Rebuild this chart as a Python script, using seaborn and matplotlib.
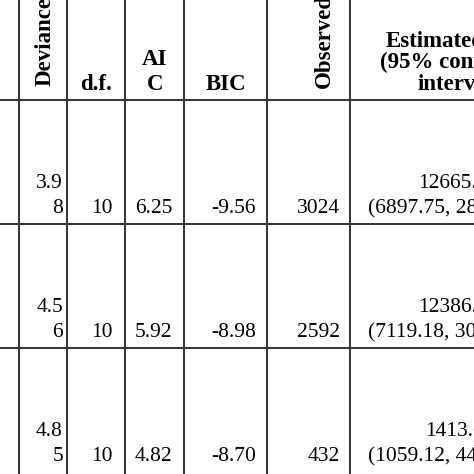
import matplotlib
matplotlib.use("Agg")
import matplotlib.pyplot as plt
import seaborn as sns

# table contents (cropped view of a model-fit table)
deviance = [("3.9", "8"), ("4.5", "6"), ("4.8", "5")]
df_vals = ["10", "10", "10"]
aic = ["6.25", "5.92", "4.82"]
bic = ["-9.56", "-8.98", "-8.70"]
observed = ["3024", "2592", "432"]
estimated = ["12665.53", "12386.47", "1413.65"]
ci = ["(6897.75, 28014.62)", "(7119.18, 30211.84)", "(1059.12, 4412.36)"]

sns.set_theme(style="white")
plt.rcParams["font.family"] = ["Liberation Serif", "DejaVu Serif"]

fig = plt.figure(figsize=(4.74, 4.74), dpi=100)
ax = fig.add_axes([0, 0, 1, 1])
ax.set_xlim(0, 474)
ax.set_ylim(474, 0)
ax.axis("off")

lw = 1.4
for x in [19, 67, 125, 184, 267, 350]:
    ax.axvline(x, color="#333333", lw=lw)
for y in [100, 224, 348]:
    ax.axhline(y, color="#333333", lw=lw)

hk = dict(fontsize=16.5, fontweight="bold", color="black")
ax.text(45, 86, "Deviance", rotation=90, ha="center", va="bottom", **hk)
ax.text(324, 88, "Observed", rotation=90, ha="center", va="bottom", **hk)
ax.text(96, 90, "d.f.", ha="center", va="baseline", **hk)
ax.text(155, 65, "AI", ha="center", va="baseline", **hk)
ax.text(155, 90, "C", ha="center", va="baseline", **hk)
ax.text(226, 90, "BIC", ha="center", va="baseline", **hk)
ax.text(386, 47, "Estimated", ha="left", va="baseline", **hk)
ax.text(380, 68, "(95% confidence", ha="left", va="baseline", **hk)
ax.text(418, 90, "interval)", ha="left", va="baseline", **hk)

tk = dict(fontsize=15.5, color="black", va="baseline")
for i in range(3):
    y1 = 188 + 124 * i
    y2 = 213 + 124 * i
    ax.text(63, y1, deviance[i][0], ha="right", **tk)
    ax.text(63, y2, deviance[i][1], ha="right", **tk)
    ax.text(113, y2, df_vals[i], ha="right", **tk)
    ax.text(135, y2, aic[i], ha="left", **tk)
    ax.text(256, y2, bic[i], ha="right", **tk)
    ax.text(340, y2, observed[i], ha="right", **tk)
    ax.text(368, y2, ci[i], ha="left", **tk)
    ax.text(418 + (7 if i == 2 else 0), y1, estimated[i], ha="left", **tk)

fig.savefig("out.png", dpi=100, facecolor="white")
